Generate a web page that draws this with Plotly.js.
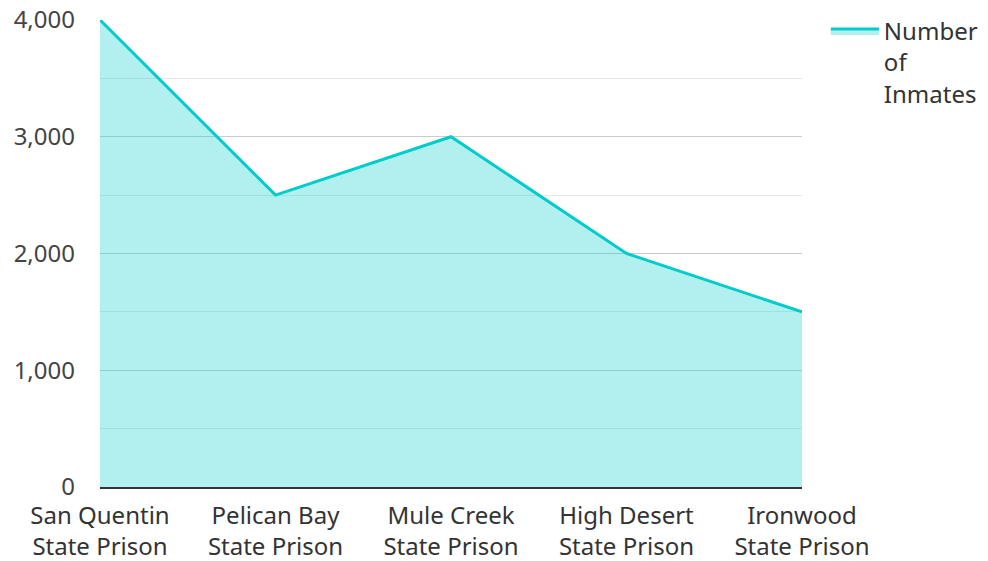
<!DOCTYPE html>
<html>
<head>
<meta charset="utf-8">
<script src="https://cdn.plot.ly/plotly-3.0.1.min.js"></script>
<style>html,body{margin:0;padding:0;background:#fff;}#chart{width:988px;height:561px;}</style>
</head>
<body>
<div id="chart"></div>
<script>
const categories = ["San Quentin<br>State Prison", "Pelican Bay<br>State Prison", "Mule Creek<br>State Prison", "High Desert<br>State Prison", "Ironwood<br>State Prison"];
const inmates = [4000, 2500, 3000, 2000, 1500];
const seriesName = "Number<br>of<br>Inmates";
const yTickVals = [0, 1000, 2000, 3000, 4000];
const yTickText = ["0", "1,000", "2,000", "3,000", "4,000"];

const trace = {
  x: categories,
  y: inmates,
  name: seriesName,
  type: "scatter",
  mode: "lines",
  fill: "tozeroy",
  fillcolor: "rgba(0,204,204,0.3)",
  line: {color: "rgb(0,204,204)", width: 3},
  showlegend: true
};

const layout = {
  width: 988,
  height: 561,
  margin: {l: 100, r: 186, t: 20, b: 74, autoexpand: false},
  paper_bgcolor: "#fff",
  plot_bgcolor: "#fff",
  font: {family: "Noto Sans, sans-serif", size: 24, color: "#444"},
  showlegend: true,
  legend: {x: 1.034, y: 1.024, xanchor: "left", yanchor: "top", valign: "top", itemwidth: 48, font: {size: 24, color: "#333"}, bgcolor: "rgba(0,0,0,0)"},
  xaxis: {
    type: "category",
    range: [0, 4],
    showgrid: false,
    showline: true,
    linecolor: "#333",
    linewidth: 2,
    ticks: "",
    ticklabelstandoff: 6,
    tickfont: {size: 24, color: "#333"},
    zeroline: false,
    automargin: false,
    fixedrange: true
  },
  yaxis: {
    range: [0, 4000],
    tickvals: yTickVals,
    ticktext: yTickText,
    showgrid: true,
    gridcolor: "#cccccc",
    gridwidth: 1,
    zeroline: false,
    showline: false,
    ticks: "",
    ticklabelstandoff: 24,
    tickfont: {size: 24, color: "#444"},
    minor: {dtick: 500, showgrid: true, gridcolor: "#e8e8e8", gridwidth: 1},
    automargin: false,
    fixedrange: true
  }
};

Plotly.newPlot("chart", [trace], layout, {displayModeBar: false, staticPlot: true});
</script>
</body>
</html>
